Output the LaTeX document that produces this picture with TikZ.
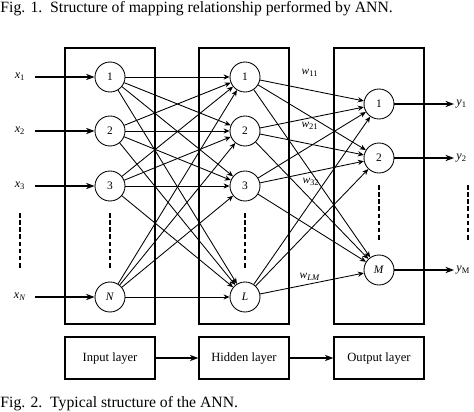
\documentclass[tikz,border=0pt]{standalone}
\usepackage{fontspec}
\setmainfont{Liberation Serif}
\usetikzlibrary{arrows.meta, positioning}
\newcommand{\vsub}[2]{\textit{#1}\textsubscript{#2}}
\tikzset{
  every picture/.style={x=0.7pt, y=-0.7pt, line width=0.6pt},
  neuron/.style={draw, circle, minimum size=21pt, inner sep=0pt, font=\fontsize{8}{9}\selectfont},
  layer/.style={draw, line width=0.9pt, minimum width=63pt, inner sep=0pt},
  tag/.style={layer, minimum height=29.4pt, font=\fontsize{8.8}{10}\selectfont},
  arrow/.style={-{Stealth[length=4.2pt, width=3.6pt]}},
  feed/.style={-{Stealth[length=6pt, width=4.4pt]}, line width=1.1pt},
  var/.style={font=\fontsize{8.5}{10}\selectfont},
  weight/.style={font=\fontsize{8}{9}\selectfont, inner sep=1pt},
  dots/.style={line width=0.9pt, dash pattern=on 3.2pt off 1.8pt},
  caption/.style={anchor=west, inner sep=0pt, font=\fontsize{11}{13}\selectfont},
}
\begin{document}
\begin{tikzpicture}
  \useasboundingbox (0,0) rectangle (474,412);
  \node[caption] (cap1) at (0,9) {Fig. 1.\enspace Structure of mapping relationship performed by ANN.};
  % layer frames
  \node[layer, minimum height=193.2pt] (inbox) at (110,186) {};
  \node[layer, minimum height=193.2pt] (hidbox) at (244,186) {};
  \node[layer, minimum height=193.2pt] (outbox) at (379,186) {};
  % input layer
  \foreach \i/\y/\t/\s in {1/77/1/1, 2/131/2/2, 3/186/3/3, 4/297/\textit{N}/\textit{N}} {
    \node[neuron] (i\i) at (110,\y) {\t};
    \node[var] (x\i) at (20,\y) {\vsub{x}{\s}};
    \coordinate (xs\i) at (35,\y);
    \draw[feed] (xs\i) -- (i\i);
  }
  % hidden layer
  \foreach \i/\y/\t in {1/77/1, 2/131/2, 3/186/3, 4/297/\textit{L}}
    \node[neuron] (h\i) at (245,\y) {\t};
  % output layer
  \foreach \i/\y/\t/\s in {1/104/1/1, 2/158/2/2, 3/270/\textit{M}/M} {
    \node[neuron] (o\i) at (379,\y) {\t};
    \coordinate (ye\i) at (454,\y);
    \node[var, anchor=west, inner sep=0pt] (y\i) at (456,\y) {\vsub{y}{\s}};
    \draw[feed, line width=0.8pt] (o\i) -- (ye\i);
  }
  % connections
  \foreach \a in {1,...,4}
    \foreach \b in {1,...,4}
      \draw[arrow] (i\a) -- (h\b);
  \foreach \a in {1,...,4}
    \foreach \b in {1,...,3}
      \draw[arrow] (h\a) -- (o\b);
  % weights
  \node[weight] (w11) at (310,73) {\vsub{w}{11}};
  \node[weight] (w21) at (310,126) {\vsub{w}{21}};
  \node[weight] (w32) at (311,182) {\vsub{w}{32}};
  \node[weight] (wlm) at (310,277) {\textit{w}\textsubscript{\textit{LM}}};
  % ellipses
  \draw[dots] (20,213) -- (20,268);
  \draw[dots] (110,213) -- (110,268);
  \draw[dots] (245,213) -- (245,270);
  \draw[dots] (379,185) -- (379,242);
  \draw[dots] (468,185) -- (468,242);
  % layer tags
  \node[tag] (tin) at (110,358) {Input layer};
  \node[tag] (thid) at (244,358) {Hidden layer};
  \node[tag] (tout) at (379,358) {Output layer};
  \draw[feed] (tin) -- (thid);
  \draw[feed] (thid) -- (tout);
  \node[caption] (cap2) at (0,404) {Fig. 2.\enspace Typical structure of the ANN.};
\end{tikzpicture}
\end{document}
